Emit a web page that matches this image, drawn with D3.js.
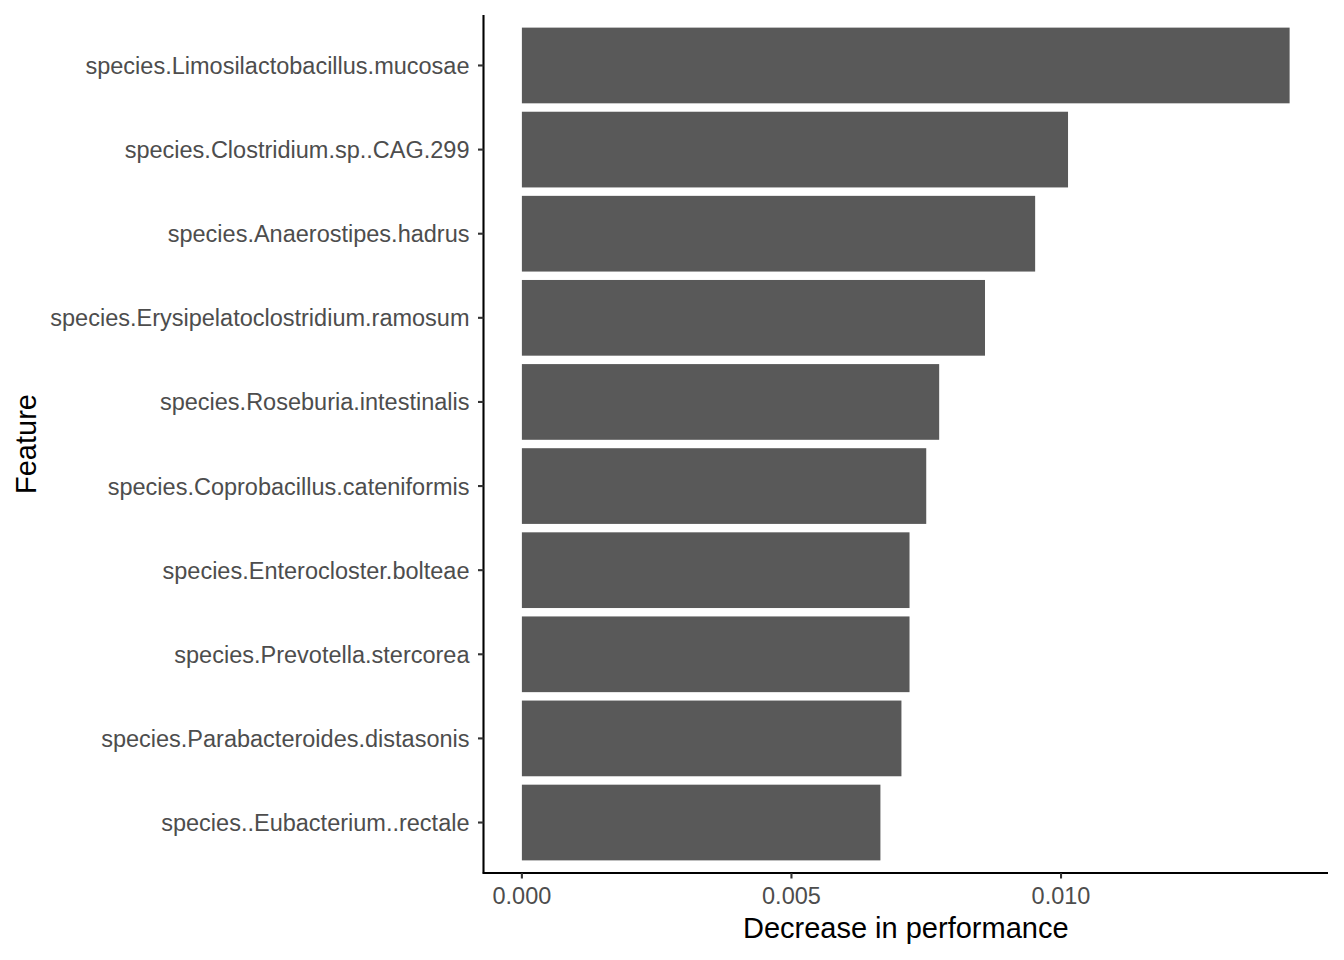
<!DOCTYPE html>
<html><head><meta charset="utf-8">
<script src="https://cdn.jsdelivr.net/npm/d3@7/dist/d3.min.js"></script>
<style>body{margin:0;background:#fff}svg{display:block}text{font-family:"Liberation Sans",Arial,sans-serif}</style>
</head><body>
<svg id="c" width="1344" height="960"></svg>
<script>
const features = [
  "species.Limosilactobacillus.mucosae",
  "species.Clostridium.sp..CAG.299",
  "species.Anaerostipes.hadrus",
  "species.Erysipelatoclostridium.ramosum",
  "species.Roseburia.intestinalis",
  "species.Coprobacillus.cateniformis",
  "species.Enterocloster.bolteae",
  "species.Prevotella.stercorea",
  "species.Parabacteroides.distasonis",
  "species..Eubacterium..rectale"
];
const values = [0.01424, 0.01013, 0.00952, 0.00859, 0.00774, 0.00750, 0.00719, 0.00719, 0.00704, 0.00665];
const xTicks = [0, 0.005, 0.010];
const xTickLabels = ["0.000", "0.005", "0.010"];

const svg = d3.select("#c");
const L = 483.5, R = 1328, T = 15, B = 873;
const maxV = d3.max(values);
const x = d3.scaleLinear().domain([-maxV*0.05, maxV*1.05]).range([L, R]);
const n = features.length;
const unit = (B - T) / (n - 1 + 1.2);
const yc = i => T + unit*(0.6 + i);
const bw = unit*0.9;

const data = features.map((f,i)=>({f, v: values[i], i}));
svg.append("g").selectAll("rect").data(data).join("rect")
  .attr("x", x(0)).attr("y", d => yc(d.i) - bw/2)
  .attr("width", d => x(d.v) - x(0)).attr("height", bw)
  .attr("fill", "#595959");

const yAxis = svg.append("g");
yAxis.append("line").attr("x1", L).attr("x2", L).attr("y1", T).attr("y2", B+0.75)
  .attr("stroke", "#000").attr("stroke-width", 2.1);
yAxis.selectAll(".t").data(data).join("line")
  .attr("x1", L-5.5).attr("x2", L).attr("y1", d=>yc(d.i)).attr("y2", d=>yc(d.i))
  .attr("stroke", "#333").attr("stroke-width", 2.1);
yAxis.selectAll("text").data(data).join("text")
  .attr("x", L-14).attr("y", d=>yc(d.i)).attr("dy", "0.36em")
  .attr("text-anchor", "end").attr("fill", "#4D4D4D").attr("font-size", 23.5)
  .text(d=>d.f);

const xAxis = svg.append("g");
xAxis.append("line").attr("x1", L-0.75).attr("x2", R).attr("y1", B).attr("y2", B)
  .attr("stroke", "#000").attr("stroke-width", 2.1);
xAxis.selectAll(".t").data(xTicks).join("line")
  .attr("x1", d=>x(d)).attr("x2", d=>x(d)).attr("y1", B).attr("y2", B+5.5)
  .attr("stroke", "#333").attr("stroke-width", 2.1);
xAxis.selectAll("text").data(xTicks).join("text")
  .attr("x", d=>x(d)).attr("y", B+31).attr("text-anchor", "middle")
  .attr("fill", "#4D4D4D").attr("font-size", 23.5)
  .text((d,i)=>xTickLabels[i]);

svg.append("text").attr("x", (L+R)/2).attr("y", 938).attr("text-anchor","middle")
  .attr("font-size", 29).attr("fill","#000").text("Decrease in performance");
svg.append("text").attr("transform", `translate(36,${(T+B)/2}) rotate(-90)`)
  .attr("text-anchor","middle").attr("font-size", 29).attr("fill","#000").text("Feature");
</script>
</body></html>
